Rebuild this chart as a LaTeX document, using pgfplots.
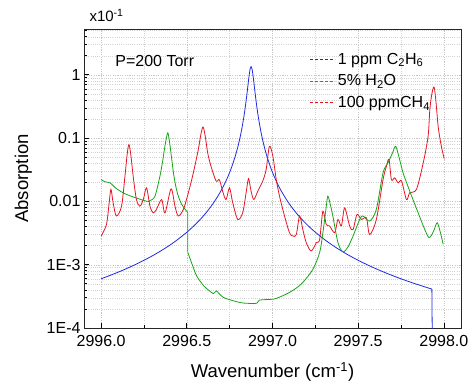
\documentclass[border=0pt]{standalone}
\usepackage{fontspec}
\setmainfont{Liberation Sans}
\usepackage{pgfplots}
\pgfplotsset{compat=1.18}
\definecolor{cblue}{RGB}{30,40,225}
\definecolor{cgreen}{RGB}{20,165,20}
\definecolor{cred}{RGB}{230,20,35}
\begin{document}
\begin{tikzpicture}
\begin{semilogyaxis}[
  scale only axis, width=377bp, height=299bp,
  at={(0,0)}, anchor=south west,
  xmin=2995.9, xmax=2998.1, ymin=1e-4, ymax=5.3,
  xtick={2996,2996.5,2997,2997.5,2998},
  xticklabels={2996.0,2996.5,2997.0,2997.5,2998.0},
  minor xtick={2996.25,2996.75,2997.25,2997.75},
  ytick={1e-4,1e-3,1e-2,1e-1,1},
  yticklabels={1E-4,1E-3,0.01,0.1,1},
  minor ytick={2e-4,3e-4,4e-4,5e-4,6e-4,7e-4,8e-4,9e-4,2e-3,3e-3,4e-3,5e-3,6e-3,7e-3,8e-3,9e-3,0.02,0.03,0.04,0.05,0.06,0.07,0.08,0.09,0.2,0.3,0.4,0.5,0.6,0.7,0.8,0.9,2,3,4,5},
  tick pos=left, tick align=inside,
  major tick length=5bp, minor tick length=3bp,
  grid=both,
  major grid style={gray!45, dash pattern=on 1.2pt off 1.2pt},
  minor grid style={gray!35, dash pattern=on 1pt off 1.2pt},
  axis line style={line width=0.9pt, black!85},
  tick style={black, line width=0.7pt},
  ticklabel style={font=\fontsize{16bp}{19bp}\selectfont},
  xticklabel style={yshift=-4bp},
  xlabel={Wavenumber (cm\textsuperscript{-1})},
  ylabel={Absorption},
  label style={font=\fontsize{18.5bp}{22bp}\selectfont},
  xlabel style={yshift=-9bp},
  ylabel shift=8bp,
  legend style={draw=none, fill=none, at={(0.596,0.93)}, anchor=north west,
    font=\fontsize{16bp}{19bp}\selectfont, row sep=5bp, inner sep=1pt},
  legend cell align=left,
  every axis plot/.append style={line width=0.8pt},
]
\addplot[cblue, smooth, tension=0.5, forget plot] coordinates {
(2996.00,5.99e-4) (2996.05,6.74e-4) (2996.10,7.64e-4) (2996.15,8.73e-4)
(2996.20,1.007e-3) (2996.25,1.174e-3) (2996.30,1.387e-3) (2996.35,1.664e-3)
(2996.40,2.03e-3) (2996.45,2.54e-3) (2996.50,3.26e-3) (2996.525,3.74e-3)
(2996.55,4.33e-3) (2996.575,5.08e-3) (2996.60,6.04e-3) (2996.625,7.3e-3)
(2996.65,9.0e-3) (2996.675,0.01138) (2996.70,0.01482) (2996.715,0.01769)
(2996.73,0.02148) (2996.745,0.02662) (2996.76,0.03384) (2996.78,0.0490)
(2996.795,0.0681) (2996.805,0.0876) (2996.815,0.1165) (2996.825,0.1616)
(2996.835,0.2366) (2996.84,0.2933) (2996.845,0.370) (2996.85,0.4756)
(2996.855,0.620) (2996.86,0.8124) (2996.865,1.043) (2996.87,1.2575)
(2996.875,1.35) (2996.88,1.2575) (2996.885,1.043) (2996.89,0.8124)
(2996.895,0.620) (2996.90,0.4756) (2996.905,0.370) (2996.91,0.2933)
(2996.915,0.2366) (2996.925,0.1616) (2996.935,0.1165) (2996.945,0.0876)
(2996.955,0.0681) (2996.97,0.0490) (2996.99,0.03384) (2997.005,0.02662)
(2997.02,0.02148) (2997.035,0.01769) (2997.05,0.01482) (2997.075,0.01138)
(2997.10,9.0e-3) (2997.125,7.3e-3) (2997.15,6.04e-3) (2997.175,5.08e-3)
(2997.20,4.33e-3) (2997.225,3.74e-3) (2997.25,3.26e-3) (2997.30,2.54e-3)
(2997.35,2.03e-3) (2997.40,1.664e-3) (2997.45,1.387e-3) (2997.50,1.174e-3)
(2997.55,1.007e-3) (2997.60,8.73e-4) (2997.65,7.64e-4) (2997.70,6.74e-4)
(2997.75,5.99e-4) (2997.80,5.36e-4) (2997.85,4.83e-4) (2997.90,4.37e-4)
(2997.93,4.12e-4)
};
\addplot[cgreen, smooth, tension=0.5, forget plot] coordinates {
(2996.000,0.0222) (2996.022,0.0204) (2996.051,0.0197) (2996.090,0.0159)
(2996.148,0.0129) (2996.263,0.0101) (2996.285,0.0103) (2996.314,0.0121)
(2996.343,0.025) (2996.360,0.045) (2996.372,0.074) (2996.388,0.121) (2996.397,0.095) (2996.405,0.066)
(2996.425,0.025) (2996.445,0.0135) (2996.470,0.0090) (2996.505,0.0067)
};
\addplot[cred, smooth, tension=0.5, forget plot] coordinates {
(2996.000,2.84e-3) (2996.031,4.3e-3) (2996.045,8.5e-3) (2996.057,0.0155) (2996.070,9.5e-3) (2996.089,5.9e-3)
(2996.119,8.4e-3) (2996.139,0.025) (2996.152,0.056) (2996.162,0.079) (2996.173,0.055) (2996.187,0.025)
(2996.206,0.0107) (2996.226,8.4e-3) (2996.246,0.0107) (2996.265,0.0164)
(2996.285,8.4e-3) (2996.304,6.6e-3) (2996.323,7.5e-3) (2996.353,0.0107)
(2996.373,6.6e-3) (2996.408,0.0158) (2996.431,8.4e-3) (2996.450,5.9e-3)
(2996.480,7.5e-3) (2996.509,0.0137) (2996.538,0.0283) (2996.567,0.066)
(2996.583,0.118) (2996.595,0.15) (2996.608,0.105) (2996.622,0.058) (2996.641,0.036) (2996.671,0.021)
(2996.690,0.022) (2996.709,0.0145) (2996.729,0.0107) (2996.749,0.0164)
(2996.768,9.5e-3) (2996.797,5.2e-3) (2996.826,6.6e-3) (2996.846,0.0137)
(2996.860,0.0229) (2996.875,0.0145) (2996.891,0.0107) (2996.914,0.0145)
(2996.943,0.021) (2996.963,0.032) (2996.982,0.074) (2997.002,0.052)
(2997.022,0.022) (2997.041,0.0121) (2997.060,7.5e-3) (2997.070,5.9e-3)
(2997.099,3.2e-3) (2997.119,2.84e-3) (2997.139,3.0e-3) (2997.158,5.9e-3)
(2997.177,3.6e-3) (2997.197,2.23e-3) (2997.226,1.65e-3) (2997.256,2.23e-3)
(2997.275,2.5e-3) (2997.294,7.0e-3) (2997.314,4.3e-3) (2997.333,4.1e-3)
(2997.363,3.2e-3) (2997.382,5.2e-3) (2997.402,4.1e-3) (2997.421,7.9e-3)
(2997.450,4.1e-3) (2997.470,3.6e-3) (2997.493,6.2e-3) (2997.519,5.2e-3)
(2997.548,5.5e-3) (2997.567,3.0e-3) (2997.606,5.2e-3) (2997.645,0.022)
(2997.665,0.036) (2997.680,0.046) (2997.694,0.022) (2997.713,0.0236)
(2997.733,0.0197) (2997.753,0.021) (2997.782,0.0107) (2997.801,0.0137)
(2997.840,0.0155) (2997.879,0.04) (2997.908,0.107) (2997.918,0.28)
(2997.930,0.50) (2997.943,0.64) (2997.955,0.35) (2997.967,0.15) (2997.985,0.075) (2998.002,0.0475)
};
% vertical drops and the rest of the water curve
\addplot[cblue, forget plot] coordinates {(2997.93,4.12e-4) (2997.935,1e-5)};
\addplot[cgreen, forget plot] coordinates {(2996.505,0.0067) (2996.506,1.56e-3)};
\addplot[cgreen, smooth, tension=0.5, forget plot] coordinates {
(2996.506,1.56e-3) (2996.538,9.0e-4) (2996.557,6.67e-4) (2996.600,4.6e-4) (2996.655,3.5e-4) (2996.671,3.86e-4)
(2996.713,3.05e-4) (2996.770,2.7e-4) (2996.830,2.48e-4) (2996.908,2.46e-4) (2996.924,2.76e-4)
(2997.006,2.86e-4) (2997.050,3.15e-4) (2997.099,3.65e-4) (2997.138,4.26e-4)
(2997.177,5.25e-4) (2997.236,8.5e-4) (2997.275,1.56e-3) (2997.294,3.2e-3)
(2997.314,8.4e-3) (2997.323,0.0121) (2997.335,9.5e-3) (2997.352,5.9e-3) (2997.382,2.23e-3)
(2997.411,1.6e-3) (2997.440,1.9e-3) (2997.470,2.84e-3) (2997.509,5.2e-3) (2997.528,5.9e-3)
(2997.567,4.9e-3) (2997.606,7.5e-3) (2997.645,0.0283) (2997.674,0.0407)
(2997.700,0.058) (2997.719,0.0743) (2997.740,0.048) (2997.762,0.0283) (2997.801,0.0145) (2997.850,6.6e-3)
(2997.885,3.8e-3) (2997.914,2.68e-3) (2997.940,3.4e-3) (2997.961,4.6e-3) (2997.980,3.2e-3) (2997.996,2.1e-3)
};
\addlegendimage{legend image code/.code={\draw[cblue, line width=1pt, dash pattern=on 3bp off 2bp] (0bp,0bp) -- (25bp,0bp);}}
\addlegendentry{1 ppm C\textsubscript{2}H\textsubscript{6}}
\addlegendimage{legend image code/.code={\draw[cgreen, line width=1pt, dash pattern=on 3bp off 2bp] (0bp,0bp) -- (25bp,0bp);}}
\addlegendentry{5\% H\textsubscript{2}O}
\addlegendimage{legend image code/.code={\draw[cred, line width=1pt, dash pattern=on 3bp off 2bp] (0bp,0bp) -- (25bp,0bp);}}
\addlegendentry{100 ppmCH\textsubscript{4}}
\node[anchor=west, font=\fontsize{16bp}{19bp}\selectfont] at (rel axis cs:0.074,0.893) {P=200 Torr};
\end{semilogyaxis}
\node[anchor=base west, font=\fontsize{15bp}{18bp}\selectfont] at (2bp,306bp) {x10\textsuperscript{-1}};
\pgfresetboundingbox
\path[use as bounding box] (-84bp,-61bp) rectangle (390bp,328bp);
\end{tikzpicture}
\end{document}
